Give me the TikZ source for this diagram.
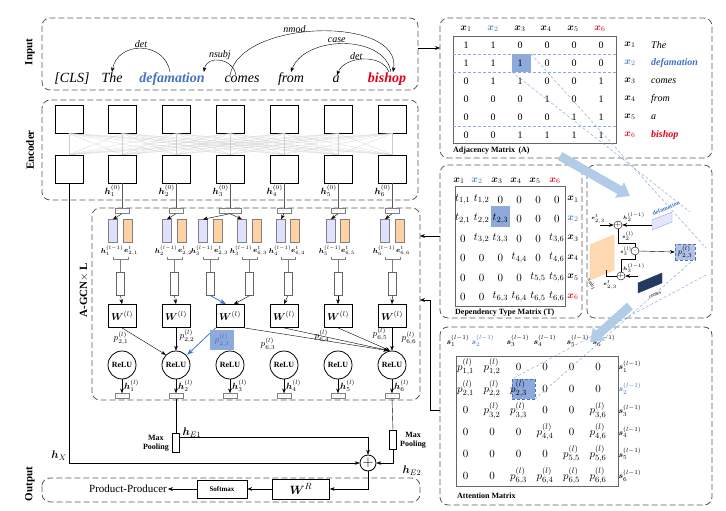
\documentclass[tikz,border=0pt]{standalone}
\usepackage{fontspec}
\setmainfont{Liberation Serif}
\usepackage{amsmath,bm}
\usetikzlibrary{arrows.meta}
\definecolor{wblue}{RGB}{68,114,196}
\definecolor{wred}{RGB}{224,0,27}
\definecolor{hlblue}{RGB}{142,169,219}
\definecolor{bigarrow}{RGB}{178,204,232}
\begin{document}
\begin{tikzpicture}[x=1pt,y=-1pt,>=Stealth]
\tikzstyle{panel}=[draw=gray!70!black,thick,dash pattern=on 6pt off 3pt,rounded corners=8pt]
\tikzstyle{ebox}=[draw,thick,minimum width=28,minimum height=28,inner sep=0]
\tikzstyle{word}=[font=\fontsize{14}{15}\selectfont\itshape,inner sep=1,anchor=base]
\tikzstyle{dots}=[draw=gray,inner sep=0.6,font=\fontsize{5}{5}\selectfont,minimum width=14,minimum height=5]
\tikzstyle{hv}=[draw=gray,fill=blue!12,minimum width=9,minimum height=23,inner sep=0]
\tikzstyle{ev}=[draw=gray,fill=orange!35,minimum width=9,minimum height=23,inner sep=0]
\tikzstyle{fv}=[draw=gray!80!black,fill=white,minimum width=8,minimum height=23,inner sep=0]
\tikzstyle{wbox}=[draw,thick,minimum width=28,minimum height=23,inner sep=0,font=\fontsize{10}{10}\selectfont]
\tikzstyle{relu}=[draw,thick,circle,minimum size=28,inner sep=0,font=\fontsize{8}{8}\selectfont\bfseries]
\tikzstyle{lab}=[font=\fontsize{9}{9}\selectfont,inner sep=1]
\tikzstyle{arc}=[above,inner sep=1,font=\fontsize{10}{10}\selectfont\itshape]
\tikzstyle{side}=[rotate=90,font=\fontsize{11}{11}\selectfont\bfseries]
\tikzstyle{cell}=[font=\fontsize{10}{10}\selectfont,inner sep=0]
\useasboundingbox (0,0) rectangle (726,511);

% left panels
\draw[panel] (42,18) rectangle (418,90);
\draw[panel] (42,100) rectangle (418,200);
\draw[panel] (92,208) rectangle (420,400);
\draw[panel] (42,478) rectangle (420,502);
\node[side] at (30,52) {Input};
\node[side] at (30,150) {Encoder};
\node[side] at (30,484) {Output};
\node[side] at (84,290) {A-GCN$\times$ L};

% input sentence
\node[word] (w0) at (72,83) {[CLS]};
\node[word] (w1) at (112,83) {The};
\node[word,text=wblue,font=\fontsize{14}{15}\selectfont\bfseries\itshape] (w2) at (172,83) {defamation};
\node[word] (w3) at (242,83) {comes};
\node[word] (w4) at (291,83) {from};
\node[word] (w5) at (336,83) {a};
\node[word,text=wred,font=\fontsize{14}{15}\selectfont\bfseries\itshape] (w6) at (387,83) {bishop};
\draw[->] ([xshift=-2]w2.north) to[out=100,in=80,looseness=1.4] node[arc] {det} (w1.north);
\draw[->] ([xshift=-6]w3.north) to[out=100,in=80,looseness=1.4] node[arc] {nsubj} ([xshift=-2]w2.north east);
\draw[->] ([xshift=-12]w3.north) to[out=80,in=80,looseness=0.9] node[arc,pos=0.4] {nmod} ([xshift=6]w6.north);
\draw[->] ([xshift=4]w6.north) to[out=100,in=70] node[arc,pos=0.55] {case} (w4.north);
\draw[->] ([xshift=2]w6.north) to[out=110,in=70] node[arc,pos=0.6] {det} ([xshift=1]w5.north);

% encoder
\foreach \i/\x in {0/69,1/122,2/176,3/230,4/284,5/338,6/392}{
  \node[ebox] (t\i) at (\x,119) {};
  \node[ebox] (b\i) at (\x,169) {};
}
\foreach \i in {0,...,6}{
  \foreach \j in {0,...,6}{
    \draw[gray!40,very thin] (t\i.south) -- (b\j.north);
  }
}

% A-GCN columns
\foreach \i/\x in {1/122,2/176,4/284,5/338,6/392}{
  \node[dots] (d\i) at (\x,211) {$\cdots$};
  \node[lab,anchor=east] at (\x,191) {$\bm{h}_{\i}^{(0)}$};
  \draw[gray!70!black] (b\i.south) -- (d\i.north);
}
\node[dots,minimum width=22] (d3) at (230,211) {$\cdots\cdot$};
\node[lab,anchor=east] at (230,191) {$\bm{h}_{3}^{(0)}$};
\draw[gray!70!black] (b3.south) -- (d3.north);

\foreach \k/\hx/\ex/\hi/\ei/\dn in {a/113/128/1/{2,1}/1,b/167/182/2/{2,2}/2,c/203/218/3/{2,3}/3,d/242/257/3/{6,3}/3,e/281/295/4/{6,4}/4,f/331/345/5/{6,5}/5,g/385/400/6/{6,6}/6}{
  \node[hv] (h\k) at (\hx,231) {};
  \node[ev] (e\k) at (\ex,231) {};
  \node[lab,font=\fontsize{7}{7}\selectfont] at (\hx-1,251) {$\bm{h}_{\hi}^{(l-1)}$};
  \node[lab,font=\fontsize{7}{7}\selectfont] at (\ex+3,251) {$\bm{e}^{t}_{\ei}$};
  \draw[->,thin] (d\dn.south) -- (h\k.north);
  \coordinate (m\k) at ({(\hx+\ex)/2},262);
  \draw[gray] (h\k.south|-0,257) -- (h\k.south|-0,259) -- (e\k.south|-0,259) -- (e\k.south|-0,257);
  \node[fv] (f\k) at ({(\hx+\ex)/2},284) {};
  \draw[gray] (m\k|-0,259) -- (f\k.north);
}
\foreach \i/\x in {1/122,2/176,3/230,4/284,5/338,6/392}{
  \node[wbox] (W\i) at (\x,316) {$\bm{W}^{(l)}$};
  \node[relu] (r\i) at (\x,365) {ReLU};
  \node[dots] (o\i) at (\x,396) {$\cdots$};
  \draw[->] (r\i.south) -- (o\i.north);
  \node[lab,anchor=west] at (\x+1,386) {$\bm{h}_{\i}^{(l)}$};
}
\foreach \k/\i in {a/1,b/2,e/4,f/5,g/6}{
  \draw[->] (f\k.south) -- (W\i.north);
}
\draw[->,wblue,thick] (fc.south) -- ([xshift=-4]W3.north);
\draw[->] (fd.south) -- ([xshift=4]W3.north);

\draw[->] (W1.south) -- (r2.north west);
\draw[->] (W2.south) -- (r2.north);
\draw[->,wblue,thick] (W3.south west) -- ([xshift=1]r2.north east);
\draw[->] (W3.south east) -- ([xshift=-4]r6.north);
\draw[->] (W4.south) -- ([xshift=-3]r6.north);
\draw[->] (W5.south) -- ([xshift=-2]r6.north);
\draw[->] (W6.south) -- (r6.north);
\node[lab] at (121,338) {$p^{(l)}_{2,1}$};
\node[lab] at (187,336) {$p^{(l)}_{2,2}$};
\node[lab,fill=hlblue,text=wblue,minimum width=24,minimum height=20] at (222,340) {$p^{(l)}_{2,3}$};
\node[lab] at (268,344) {$p^{(l)}_{6,3}$};
\node[lab] at (322,336) {$p^{(l)}_{6,4}$};
\node[lab] at (380,334) {$p^{(l)}_{6,5}$};
\node[lab] at (409,338) {$p^{(l)}_{6,6}$};

% pooling and output
\node[draw,minimum width=7,minimum height=19,inner sep=0] (mp1) at (176,443) {};
\node[draw,minimum width=7,minimum height=19,inner sep=0] (mp2) at (393,440) {};
\node[lab,align=center,font=\fontsize{8}{9}\selectfont\bfseries,anchor=east] at (170,443) {Max\\Pooling};
\node[lab,align=center,font=\fontsize{8}{9}\selectfont\bfseries,anchor=west] at (399,440) {Max\\Pooling};
\draw (o2.south) -- (mp1.north);
\draw (o6.south) -- (mp2.north);
\node[circle,draw,thick,inner sep=0,minimum size=16,font=\bfseries\fontsize{14}{14}\selectfont] (plus) at (368,463) {$+$};
\draw[->] (mp1.east|-0,437) -- (368,437) -- (plus.north);
\draw[->] (mp2.south) -- (mp2.south|-plus) -- (plus.east);
\draw[->] (b0.south) -- (69,463) -- (plus.west);
\node[lab,font=\fontsize{11}{11}\selectfont] at (192,433) {$\bm{h}_{E1}$};
\node[lab,font=\fontsize{11}{11}\selectfont] at (412,471) {$\bm{h}_{E2}$};
\node[lab,font=\fontsize{11}{11}\selectfont] at (59,456) {$\bm{h}_{X}$};
\node[draw,thick,minimum width=57,minimum height=20,inner sep=0,font=\fontsize{13}{13}\selectfont] (WR) at (301,489) {$\bm{W}^{R}$};
\node[draw,minimum width=50,minimum height=18,inner sep=0,font=\fontsize{7}{7}\selectfont\bfseries] (sm) at (222,489) {Softmax};
\node[font=\fontsize{11}{11}\selectfont,inner sep=1] (pp) at (128,489) {Product-Producer};
\draw[->] (plus.south) -- (plus.south|-WR) -- (WR.east);
\draw[->] (WR.west) -- (sm.east);
\draw[->] (sm.west) -- (pp.east);

% right panels
\draw[panel] (440,18) rectangle (712,158);
\draw[panel] (440,165) rectangle (582,318);
\draw[panel] (587,165) rectangle (712,318);
\draw[panel] (440,327) rectangle (712,505);
\draw[->] (418,48) -- (440,48);
\draw[->] (440,236) -- (420,236);
\draw[->] (440,410) -- (430,410) -- (430,300) -- (420,300);

% adjacency matrix
\fill[hlblue] (512,54) rectangle (531,72);
\draw[gray!80!black] (453,36) rectangle (616,143);
\foreach \y in {54,72,126}{\draw[wblue!60,densely dashed,thin] (453,\y) -- (616,\y);}
\foreach \x/\c [count=\n] in {466/black,493/wblue,520/black,546/black,573/black,600/wred}{
  \node[cell,text=\c] at (\x,29) {$\bm{x}_{\n}$};
}
\foreach \row [count=\r] in {{1,1,0,0,0,0},{1,1,1,0,0,0},{0,1,1,0,0,1},{0,0,0,1,0,1},{0,0,0,0,1,1},{0,0,1,1,1,1}}{
  \foreach \v [count=\c] in \row {
    \node[cell] at ({439+27*\c},{27+18*\r}) {\v};
  }
}
\foreach \w/\c/\f [count=\n] in {The/black/,defamation/wblue/\bfseries,comes/black/,from/black/,a/black/,bishop/wred/\bfseries}{
  \node[cell,text=\c] at (630,{27+18*\n}) {$\bm{x}_{\n}$};
  \node[cell,text=\c,anchor=west,font=\fontsize{10}{10}\selectfont\itshape\f] at (651,{27+18*\n}) {\w};
}
\node[cell,anchor=west,font=\fontsize{8}{8}\selectfont\bfseries] at (453,151) {Adjacency Matrix\,\ (A)};

% dependency type matrix
\fill[hlblue] (491,206) rectangle (510,227);
\draw[gray!80!black] (455,186) rectangle (565,306);
\foreach \x/\c [count=\n] in {459/black,477/wblue,497/black,516/black,535/black,555/wred}{
  \node[cell,text=\c] at (\x,181) {$\bm{x}_{\n}$};
  \node[cell,text=\c] at (573,{180+19.5*\n}) {$\bm{x}_{\n}$};
}
\foreach \row [count=\r] in {{t_{1,1},t_{1,2},0,0,0,0},{t_{2,1},t_{2,2},t_{2,3},0,0,0},{0,t_{3,2},t_{3,3},0,0,t_{3,6}},{0,0,0,t_{4,4},0,t_{4,6}},{0,0,0,0,t_{5,5},t_{5,6}},{0,0,t_{6,3},t_{6,4},t_{6,5},t_{6,6}}}{
  \foreach \v [count=\c] in \row {
    \node[cell,font=\fontsize{11}{11}\selectfont] at ({444+18.8*\c},{180+19.5*\r}) {$\v$};
  }
}
\node[cell,anchor=west,font=\fontsize{8}{8}\selectfont\bfseries] at (455,313) {Dependency Type Matrix (T)};

% detail view
\draw[fill=orange!30,draw=orange!40] (590,245) -- (614,235) -- (614,270) -- (590,280) -- cycle;
\draw[fill=blue!10,draw=wblue!60] (652,220) -- (672,212) -- (672,222) -- (652,230) -- cycle;
\draw[fill=wblue!50!black,draw=wblue!50!black] (638,283) -- (662,273) -- (662,283) -- (638,293) -- cycle;
\node[cell,rotate=22,text=wblue,font=\fontsize{6}{6}\selectfont\bfseries] at (666,208) {defamation};
\node[cell,rotate=22,font=\fontsize{5}{5}\selectfont] at (655,295) {comes};
\node[cell,rotate=-60,font=\fontsize{5}{5}\selectfont] at (591,284) {nsubj};
\node[circle,draw,inner sep=0,minimum size=8,font=\fontsize{7}{7}\selectfont] (pa) at (618,225) {$+$};
\node[circle,draw,inner sep=0,minimum size=8,font=\fontsize{7}{7}\selectfont] (pb) at (621,276) {$+$};
\node[circle,draw,inner sep=0,minimum size=8,font=\fontsize{7}{7}\selectfont] (pc) at (635,251) {$\cdot$};
\node[cell,draw=wblue,densely dashed,fill=hlblue!70,font=\fontsize{8}{8}\selectfont,minimum width=20,minimum height=16] (pd) at (685,252) {$p^{(l)}_{2,3}$};
\draw[->] (652,225) -- (pa.east);
\draw[->] (638,276) -- (pb.east);
\draw[->] (600,225) -- (pa.west);
\draw (pb.west) -- (606,276) -- (606,270);
\draw (pa.south) -- (618,243) -- (635,243) -- (pc.north);
\draw (pb.north) -- (621,259) -- (635,259) -- (pc.south);
\draw[->] (pc.east) -- (pd.west);
\node[cell,font=\fontsize{5}{5}\selectfont] at (598,219) {$\bm{e}^t_{2,3}$};
\node[cell,font=\fontsize{5}{5}\selectfont] at (610,285) {$\bm{e}^t_{2,3}$};
\node[cell,font=\fontsize{5}{5}\selectfont] at (634,217) {$\bm{h}_2^{(l-1)}$};
\node[cell,font=\fontsize{5}{5}\selectfont] at (634,268) {$\bm{h}_3^{(l-1)}$};
\node[cell,font=\fontsize{5}{5}\selectfont] at (628,236) {$\bm{s}_2^{(l)}$};
\node[cell,font=\fontsize{5}{5}\selectfont] at (626,251) {$\bm{s}_3^{(l)}$};

% attention matrix
\fill[hlblue] (512,379) rectangle (535,399);
\draw[wblue,densely dashed] (512,379) rectangle (535,399);
\draw[gray!80!black] (456,356) rectangle (618,486);
\foreach \x/\c [count=\n] in {458/black,483/wblue,518/black,545/black,578/black,604/black}{
  \node[cell,text=\c,font=\fontsize{8}{8}\selectfont] at (\x,341) {$\bm{s}_{\n}^{(l-1)}$};
  \node[cell,text=\c,font=\fontsize{8}{8}\selectfont] at (630,{345+21.8*\n}) {$\bm{s}_{\n}^{(l-1)}$};
}
\foreach \row [count=\r] in {{p^{(l)}_{1,1},p^{(l)}_{1,2},0,0,0,0},{p^{(l)}_{2,1},p^{(l)}_{2,2},p^{(l)}_{2,3},0,0,0},{0,p^{(l)}_{3,2},p^{(l)}_{3,3},0,0,p^{(l)}_{3,6}},{0,0,0,p^{(l)}_{4,4},0,p^{(l)}_{4,6}},{0,0,0,0,p^{(l)}_{5,5},p^{(l)}_{5,6}},{0,0,p^{(l)}_{6,3},p^{(l)}_{6,4},p^{(l)}_{6,5},p^{(l)}_{6,6}}}{
  \foreach \v [count=\c] in \row {
    \node[cell,font=\fontsize{11}{11}\selectfont] at ({439+26.5*\c},{345+21.8*\r}) {$\v$};
  }
}
\node[cell,anchor=west,font=\fontsize{8}{8}\selectfont\bfseries] at (457,496) {Attention Matrix};

% links between views
\draw[wblue!70,densely dashed] (531,54) -- (706,248);
\draw[wblue!70,densely dashed] (512,72) -- (690,212);
\draw[wblue!70,densely dashed] (691,262) -- (535,399);
\draw[wblue!70,densely dashed] (706,275) -- (512,379);
\draw[line width=9pt,bigarrow,-{Triangle[width=17pt,length=12pt]}] (560,156) -- (630,196);
\draw[line width=9pt,bigarrow,-{Triangle[width=17pt,length=12pt]}] (630,306) -- (590,342);
\end{tikzpicture}
\end{document}
